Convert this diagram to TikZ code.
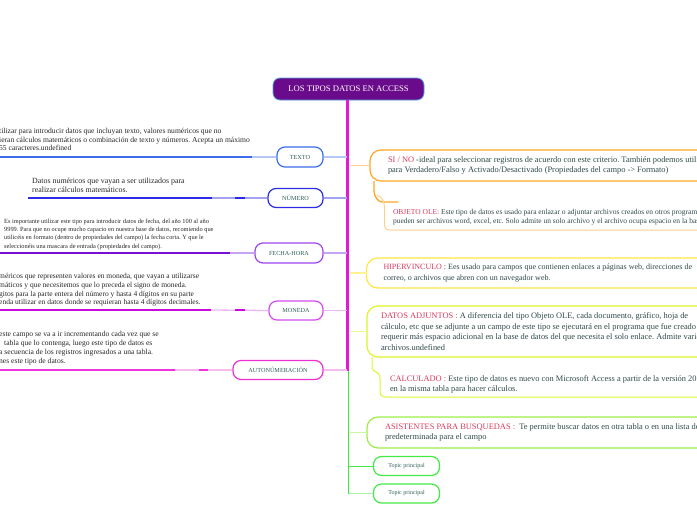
\documentclass[tikz,border=0pt]{standalone}
\usepackage{fontspec}
\setmainfont{Liberation Serif}
\frenchspacing
\definecolor{rootfill}{HTML}{6A0B8B}
\definecolor{rootline}{HTML}{4FA3D9}
\definecolor{trunkmag}{HTML}{E21AD6}
\definecolor{trunkgreen}{HTML}{3EE63E}
\definecolor{labelcol}{HTML}{2F5E58}
\definecolor{notecol}{HTML}{262626}
\definecolor{bodycol}{HTML}{2E4A48}
\definecolor{headcol}{HTML}{D93A5C}
% left branches
\definecolor{textoline}{HTML}{3B6DEB}
\definecolor{textolight}{HTML}{B5C7F4}
\definecolor{numeroline}{HTML}{2C2CE6}
\definecolor{numerolight}{HTML}{A3A3F2}
\definecolor{fechaline}{HTML}{7A0FD2}
\definecolor{fechaedge}{HTML}{9D45F0}
\definecolor{fechalight}{HTML}{C6A4F4}
\definecolor{monedaline}{HTML}{C80ADB}
\definecolor{monedaedge}{HTML}{D34AF0}
\definecolor{monedalight}{HTML}{EDB6F5}
\definecolor{autoline}{HTML}{EE35DD}
\definecolor{autoedge}{HTML}{EE2FD2}
\definecolor{autolight}{HTML}{F6BCEF}
% right branches
\definecolor{sinoedge}{HTML}{FFA623}
\definecolor{sinolight}{HTML}{FFD08F}
\definecolor{hiperedge}{HTML}{FFE645}
\definecolor{hiperlight}{HTML}{FFF28F}
\definecolor{datosedge}{HTML}{DDF52A}
\definecolor{datoslight}{HTML}{EAF98A}
\definecolor{asistedge}{HTML}{9BEE48}
\definecolor{asistlight}{HTML}{CBF7A5}
\definecolor{topicedge}{HTML}{45EA45}
\definecolor{topiclight}{HTML}{ABF5AB}

\begin{document}
\begin{tikzpicture}[x=1pt, y=-1pt,
	leftbox/.style={shape=rectangle, draw, line width=1.2pt, rounded corners=8pt, fill=white, inner sep=0pt, text=labelcol, font=\fontsize{6.2}{7}\selectfont},
	rightbox/.style={shape=rectangle, draw, line width=1.2pt, rounded corners=11pt, fill=white, anchor=west, align=flush left, text width=420pt, outer sep=0pt, inner ysep=0pt, text=bodycol, font=\fontsize{8}{10.4}\selectfont},
	note/.style={anchor=north west, align=left, inner sep=0pt, text=notecol}]
	\useasboundingbox (0,0) rectangle (697,520);
	\clip (0,0) rectangle (697,520);
	% Paths, nodes and wires:
	\node[shape=rectangle, draw=rootline, fill=rootfill, line width=0.8pt, rounded corners=7pt, minimum width=151pt, minimum height=22pt, text=white, font=\fontsize{8.6}{9}\selectfont] (root) at (348.5,89) {LOS TIPOS DATOS EN ACCESS};
	\coordinate (trunk) at (347.3,100);
	\coordinate (gtrunk) at (348.6,340);
	\coordinate (rtrunk) at (349.5,100);
	\draw[line width=1.2pt, color=trunkgreen] (gtrunk) -- (348.6,494);
	\draw[line width=2.6pt, color=trunkmag] (root.south -| trunk) -- (347.3,371);

	% left side
	\node[leftbox, draw=textoline, minimum width=46pt, minimum height=20pt] (texto) at (300,157) {TEXTO};
	\node[leftbox, draw=numeroline, minimum width=55pt, minimum height=19pt] (numero) at (295.5,198) {NÚMERO};
	\node[leftbox, draw=fechaedge, minimum width=68pt, minimum height=20pt] (fecha) at (289,253) {FECHA-HORA};
	\node[leftbox, draw=monedaedge, minimum width=54pt, minimum height=19pt] (moneda) at (296,310.5) {MONEDA};
	\node[leftbox, draw=autoedge, minimum width=90pt, minimum height=19pt] (auto) at (278,370) {AUTONÚMERACIÓN};

	\draw[line width=1.3pt, color=textolight] (texto.east) -- (texto.east -| trunk);
	\draw[line width=1.3pt, color=numerolight] (numero.east) -- (numero.east -| trunk);
	\draw[line width=1.3pt, color=fechalight] (fecha.east) -- (fecha.east -| trunk);
	\draw[line width=1.3pt, color=monedalight] (moneda.east) -- (moneda.east -| trunk);
	\draw[line width=1.3pt, color=autolight] (auto.east) -- (auto.east -| trunk);

	\coordinate (textoend) at (0,157);
	\coordinate (textomid) at (252,157);
	\draw[line width=2.2pt, color=textoline] (textoend) -- (textomid);
	\draw[line width=1.3pt, color=textolight] (textomid) -- (texto.west);
	\coordinate (numeroend) at (28,198);
	\coordinate (numeromid) at (212,198);
	\draw[line width=2.2pt, color=numeroline] (numeroend) -- (numeromid);
	\draw[line width=1.3pt, color=numerolight] (numeromid) -- (numero.west);
	\draw[line width=2.2pt, color=numeroline] (235,198) -- (245,198);
	\coordinate (fechaend) at (0,253);
	\coordinate (fechamid) at (230,253);
	\draw[line width=2.2pt, color=fechaline] (fechaend) -- (fechamid);
	\draw[line width=1.3pt, color=fechalight] (fechamid) -- (fecha.west);
	\coordinate (monedaend) at (0,310);
	\coordinate (monedamid) at (211,310);
	\draw[line width=2.2pt, color=monedaline] (monedaend) -- (monedamid);
	\draw[line width=1.3pt, color=monedalight] (monedamid) -- (moneda.west);
	\draw[line width=2.2pt, color=monedaline] (235,310) -- (245,310);
	\coordinate (autoend) at (0,370);
	\coordinate (automid) at (175,370);
	\draw[line width=2.2pt, color=autoline] (autoend) -- (automid);
	\draw[line width=1.3pt, color=autolight] (automid) -- (auto.west);
	\draw[line width=2.2pt, color=autoline] (199,370) -- (208,370);

	\node[note, font=\fontsize{7.6}{8.6}\selectfont] (textotxt) at (-1,128) {tilizar para introducir datos que incluyan texto, valores numéricos que no\\ieran cálculos matemáticos o combinación de texto y números. Acepta un máximo\\55 caracteres.undefined};
	\node[note, font=\fontsize{7.9}{9.4}\selectfont] (numerotxt) at (32,177.5) {Datos numéricos que vayan a ser utilizados para\\realizar cálculos matemáticos.};
	\node[note, font=\fontsize{6.35}{8.3}\selectfont] (fechatxt) at (4,218.5) {Es importante utilizar este tipo para introducir datos de fecha, del año 100 al año\\9999. Para que no ocupe mucho capacio en nuestra base de datos, recomiendo que\\utilicéis en formato (dentro de propiedades del campo) la fecha corta. Y que le\\seleccionéis una mascara de entrada (propiedades del campo).};
	\node[note, font=\fontsize{7.5}{8.8}\selectfont] (monedatxt) at (-1,273) {méricos que representen valores en moneda, que vayan a utilizarse\\máticos y que necesitemos que lo preceda el signo de moneda.\\gitos para la parte entera del número y hasta 4 dígitos en su parte\\enda utilizar en datos donde se requieran hasta 4 dígitos decimales.};
	\node[note, font=\fontsize{7.6}{9.1}\selectfont] (autotxt) at (-1,331) {este campo se va a ir incrementando cada vez que se\\\hspace{5pt}tabla que lo contenga, luego este tipo de datos es\\a secuencia de los registros ingresados a una tabla.\\nes este tipo de datos.};

	% right side
	\node[rightbox, draw=sinoedge, minimum height=31pt, inner xsep=18pt, font=\fontsize{8.4}{10.6}\selectfont] (sino) at (370,165.5) {\textcolor{headcol}{SI / NO} -ideal para seleccionar registros de acuerdo con este criterio. También podemos utilizarlo\\para Verdadero/Falso y Activado/Desactivado (Propiedades del campo -> Formato)};
	\node[rightbox, draw=hiperedge, minimum height=30pt, inner xsep=17pt] (hiper) at (366.5,273) {\textcolor{headcol}{HIPERVINCULO} : Ees usado para campos que contienen enlaces a páginas web, direcciones de\\correo, o archivos que abren con un navegador web.};
	\node[rightbox, draw=datosedge, minimum height=51pt, inner xsep=14pt, font=\fontsize{8.4}{10.4}\selectfont] (datos) at (367,331.5) {\textcolor{headcol}{DATOS ADJUNTOS :} A diferencia del tipo Objeto OLE, cada documento, gráfico, hoja de\\cálculo, etc que se adjunte a un campo de este tipo se ejecutará en el programa que fue creado al\\requerir más espacio adicional en la base de datos del que necesita el solo enlace. Admite varios\\archivos.undefined};
	\node[rightbox, draw=asistedge, minimum height=31pt, inner xsep=18pt, font=\fontsize{8.4}{10.4}\selectfont] (asist) at (367,432.5) {\textcolor{headcol}{ASISTENTES PARA BUSQUEDAS :}\ \ Te permite buscar datos en otra tabla o en una lista de valores\\predeterminada para el campo};
	\node[leftbox, draw=topicedge, minimum width=66pt, minimum height=19pt, font=\fontsize{6}{7}\selectfont] (topic1) at (406.5,466) {Topic principal};
	\node[leftbox, draw=topicedge, minimum width=66pt, minimum height=19pt, font=\fontsize{6}{7}\selectfont] (topic2) at (406.5,493.5) {Topic principal};

	\draw[line width=1.3pt, color=sinolight] (sino.west -| rtrunk) -- (sino.west);
	\draw[line width=1.3pt, color=hiperlight] (hiper.west -| rtrunk) -- (hiper.west);
	\draw[line width=1.3pt, color=datoslight] (datos.west -| rtrunk) -- (datos.west);
	\draw[line width=1.3pt, color=asistlight] (asist.west -| rtrunk) -- (asist.west);
	\draw[line width=1pt, color=topicedge] (topic1.west -| gtrunk) -- (topic1.west);
	\draw[line width=1.3pt, color=topiclight] (topic2.west -| gtrunk) -- (topic2.west);

	% sub topics
	\node[rightbox, draw=none, fill=none, font=\fontsize{7.5}{8.8}\selectfont, inner xsep=0pt] (ole) at (393,217.5) {\textcolor{headcol}{OBJETO OLE:} Este tipo de datos es usado para enlazar o adjuntar archivos creados en otros programas\\pueden ser archivos word, excel, etc. Solo admite un solo archivo y el archivo ocupa espacio en la base};
	\draw[line width=1.3pt, color=sinoedge] ([xshift=4pt]sino.south west) -- ++(0,10) .. controls ++(0,5) and (378,202) .. (382,202) -- (398,202);
	\draw[line width=1pt, color=sinolight] (377,195) .. controls (382,197) and (384.5,201) .. (384.5,208) -- (384.5,225) .. controls (384.5,228.5) and (386.5,230) .. (391,230) -- (700,230);
	\node[rightbox, draw=none, fill=none, inner xsep=0pt, font=\fontsize{8.4}{10.2}\selectfont] (calc) at (390,384.5) {\textcolor{headcol}{CALCULADO :} Este tipo de datos es nuevo con Microsoft Access a partir de la versión 2010\\en la misma tabla para hacer cálculos.};
	\draw[line width=1pt, color=datosedge] ([xshift=5pt]datos.south west) -- ++(0,11) .. controls ++(0,4) and (380,371) .. (380,378) -- (380,392) .. controls (380,395.5) and (382.5,397) .. (387,397) -- (700,397);
\end{tikzpicture}
\end{document}
